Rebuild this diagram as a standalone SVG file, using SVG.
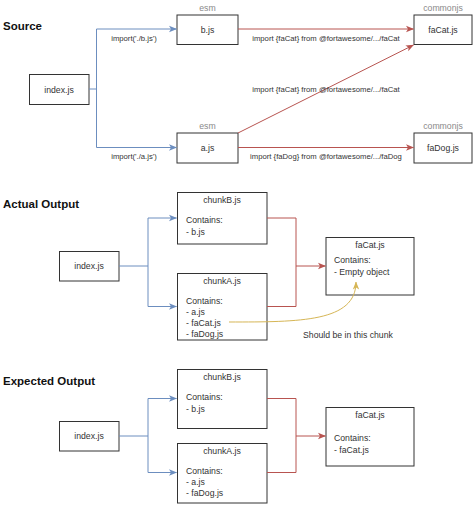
<svg xmlns="http://www.w3.org/2000/svg" width="474" height="506" viewBox="0 0 474 506">
<style>
  .box{fill:#fff;stroke:#333;stroke-width:1}
  .t{font-family:"Liberation Sans",Arial,sans-serif;font-size:8.7px;fill:#333}
  .c{text-anchor:middle}
  .lbl{font-family:"Liberation Sans",Arial,sans-serif;font-size:7.7px;fill:#333;text-anchor:middle}
  .tag{font-family:"Liberation Sans",Arial,sans-serif;font-size:8.7px;fill:#8a8a8a;text-anchor:middle}
  .h{font-family:"Liberation Sans",Arial,sans-serif;font-size:11.5px;font-weight:bold;fill:#111}
  .blue{fill:none;stroke:#6c8ebf;stroke-width:1}
  .red{fill:none;stroke:#b85450;stroke-width:1}
  .yel{fill:none;stroke:#d6b656;stroke-width:1}
</style>
<defs>
  <marker id="ab" viewBox="0 0 8 8" refX="7.5" refY="4" markerWidth="8" markerHeight="8" markerUnits="userSpaceOnUse" orient="auto">
    <path d="M0,0.8 L8,4 L0,7.2 L2,4 Z" fill="#6c8ebf"/>
  </marker>
  <marker id="ar" viewBox="0 0 8 8" refX="7.5" refY="4" markerWidth="8" markerHeight="8" markerUnits="userSpaceOnUse" orient="auto">
    <path d="M0,0.8 L8,4 L0,7.2 L2,4 Z" fill="#b85450"/>
  </marker>
  <marker id="ay" viewBox="0 0 8 8" refX="7.5" refY="4" markerWidth="8" markerHeight="8" markerUnits="userSpaceOnUse" orient="auto">
    <path d="M0,0.8 L8,4 L0,7.2 L2,4 Z" fill="#d6b656"/>
  </marker>
</defs>
<rect width="474" height="506" fill="#fff"/>

<text class="h" x="3" y="30">Source</text>
<text class="h" x="3" y="208">Actual Output</text>
<text class="h" x="3" y="385">Expected Output</text>

<g id="src-index"><rect class="box" x="29.5" y="74.5" width="59.5" height="30"/><text class="t c" x="59" y="92.5">index.js</text></g>
<g id="src-b"><text class="tag" x="207.5" y="11">esm</text><rect class="box" x="177" y="15" width="61" height="29.5"/><text class="t c" x="207.5" y="32.5">b.js</text></g>
<g id="src-a"><text class="tag" x="207.5" y="129">esm</text><rect class="box" x="177" y="133" width="61" height="30"/><text class="t c" x="207.5" y="151">a.js</text></g>
<g id="src-facat"><text class="tag" x="443" y="11">commonjs</text><rect class="box" x="414" y="15" width="58" height="29.5"/><text class="t c" x="443" y="32.5">faCat.js</text></g>
<g id="src-fadog"><text class="tag" x="443" y="129">commonjs</text><rect class="box" x="414" y="133" width="58" height="30"/><text class="t c" x="443" y="151">faDog.js</text></g>

<g id="act-index"><rect class="box" x="59.5" y="251.5" width="59.5" height="29.5"/><text class="t c" x="89" y="269">index.js</text></g>
<g id="act-chunkb"><rect class="box" x="177.5" y="192.5" width="89.5" height="51.5"/>
  <text class="t c" x="222" y="203">chunkB.js</text><text class="t" x="186" y="223">Contains:</text><text class="t" x="186" y="234.5">- b.js</text></g>
<g id="act-chunka"><rect class="box" x="177.5" y="273.5" width="89.5" height="66.5"/>
  <text class="t c" x="222" y="284">chunkA.js</text><text class="t" x="186" y="304">Contains:</text><text class="t" x="186" y="315">- a.js</text><text class="t" x="186" y="326">- faCat.js</text><text class="t" x="186" y="337">- faDog.js</text></g>
<g id="act-facat"><rect class="box" x="326" y="237.5" width="88" height="57.5"/>
  <text class="t c" x="370" y="248">faCat.js</text><text class="t" x="334" y="263">Contains:</text><text class="t" x="334" y="275">- Empty object</text></g>

<g id="exp-index"><rect class="box" x="59.5" y="421.5" width="59.5" height="29.5"/><text class="t c" x="89" y="439">index.js</text></g>
<g id="exp-chunkb"><rect class="box" x="177.5" y="369.5" width="89.5" height="59"/>
  <text class="t c" x="222" y="380">chunkB.js</text><text class="t" x="186" y="400">Contains:</text><text class="t" x="186" y="411.5">- b.js</text></g>
<g id="exp-chunka"><rect class="box" x="177.5" y="443.5" width="89.5" height="59.5"/>
  <text class="t c" x="222" y="454">chunkA.js</text><text class="t" x="186" y="474">Contains:</text><text class="t" x="186" y="485">- a.js</text><text class="t" x="186" y="496">- faDog.js</text></g>
<g id="exp-facat"><rect class="box" x="326" y="407.5" width="88" height="58.5"/>
  <text class="t c" x="370" y="417.5">faCat.js</text><text class="t" x="334" y="441">Contains:</text><text class="t" x="334" y="452.5">- faCat.js</text></g>

<g id="connectors">
  <!-- Source -->
  <path class="blue" d="M89,89 H96.5 V29 H176.5" marker-end="url(#ab)"/>
  <path class="blue" d="M96.5,89 V147.5 H176.5" marker-end="url(#ab)"/>
  <path class="red" d="M238,29 H413.5" marker-end="url(#ar)"/>
  <path class="red" d="M238,133 L413.5,45" marker-end="url(#ar)"/>
  <path class="red" d="M238,147.5 H413.5" marker-end="url(#ar)"/>
  <text class="lbl" x="134" y="41">import('./b.js')</text>
  <text class="lbl" x="134" y="159">import('./a.js')</text>
  <text class="lbl" x="326" y="41">import {faCat} from @fortawesome/.../faCat</text>
  <text class="lbl" x="326" y="92">import {faCat} from @fortawesome/.../faCat</text>
  <text class="lbl" x="326" y="159">import {faDog} from @fortawesome/.../faDog</text>
  <!-- Actual -->
  <path class="blue" d="M119,266 H148 V218 H176.5" marker-end="url(#ab)"/>
  <path class="blue" d="M148,266 V306.5 H176.5" marker-end="url(#ab)"/>
  <path class="red" d="M267,218 H296 V266 H325.5" marker-end="url(#ar)"/>
  <path class="red" d="M267,306.5 H296 V266"/>
  <path class="yel" d="M229,322 C300,322 356,322 356,282" marker-end="url(#ay)"/>
  <text class="t" x="303" y="338">Should be in this chunk</text>
  <!-- Expected -->
  <path class="blue" d="M119,436 H148 V398.5 H176.5" marker-end="url(#ab)"/>
  <path class="blue" d="M148,436 V472.5 H176.5" marker-end="url(#ab)"/>
  <path class="red" d="M267,398.5 H296 V436 H325.5" marker-end="url(#ar)"/>
  <path class="red" d="M267,472.5 H296 V436"/>
</g>
</svg>
